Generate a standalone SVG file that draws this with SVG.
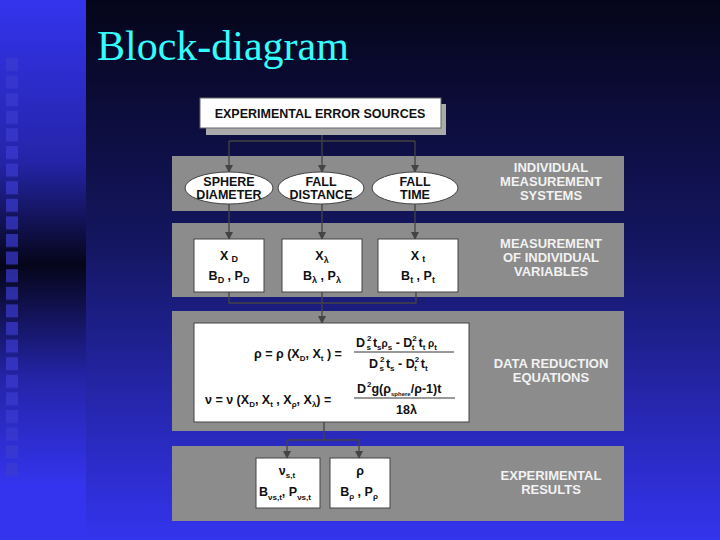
<svg xmlns="http://www.w3.org/2000/svg" width="720" height="540" viewBox="0 0 720 540">
<defs>
<linearGradient id="bgm" x1="0" y1="0" x2="0" y2="1"><stop offset="0" stop-color="#05051a"/><stop offset="0.45" stop-color="#141660"/><stop offset="1" stop-color="#3434ee"/></linearGradient>
<linearGradient id="bgl" x1="0" y1="0" x2="0" y2="1"><stop offset="0" stop-color="#3434ee"/><stop offset="0.3" stop-color="#2424a8"/><stop offset="0.49" stop-color="#05051a"/><stop offset="0.7" stop-color="#2424a8"/><stop offset="0.9" stop-color="#3434ee"/></linearGradient>
<marker id="ar" markerWidth="8" markerHeight="8" refX="7" refY="4" orient="auto" markerUnits="userSpaceOnUse"><path d="M0,0 L8,4 L0,8 z" fill="#444"/></marker>
<pattern id="sq" x="6" y="58" width="20" height="17.6" patternUnits="userSpaceOnUse"><rect width="12" height="13" fill="#3a3ad0" opacity="0.7"/></pattern>
</defs>
<style>
.band{fill:#8c8c8c}
.box{fill:#fff;stroke:#444;stroke-width:1}
.t{font-family:"Liberation Sans",Arial,sans-serif;font-weight:bold;font-size:12.5px;fill:#111;text-anchor:middle}
.lab{font-family:"Liberation Sans",Arial,sans-serif;font-weight:bold;font-size:13px;fill:#f2f2f2;text-anchor:middle}
.f{font-family:"Liberation Sans",Arial,sans-serif;font-weight:bold;font-size:12.5px;fill:#111}
.c{fill:none;stroke:#444;stroke-width:1.3}
</style>
<rect width="720" height="540" fill="url(#bgm)"/>
<rect width="86" height="540" fill="url(#bgl)"/>
<rect x="6" y="58" width="12" height="420" fill="url(#sq)"/>
<text x="97" y="60" font-family="Liberation Serif,serif" font-size="42" fill="#33ffff">Block-diagram</text>

<rect class="band" x="172" y="156" width="452" height="55"/>
<rect class="band" x="172" y="223" width="452" height="74"/>
<rect class="band" x="172" y="311" width="452" height="120"/>
<rect class="band" x="172" y="446" width="452" height="75"/>

<g id="connectors">
<path class="c" d="M322,128 V141 M229,141 H415"/>
<path class="c" d="M229,141 V172" marker-end="url(#ar)"/>
<path class="c" d="M322,141 V172" marker-end="url(#ar)"/>
<path class="c" d="M415,141 V172" marker-end="url(#ar)"/>
<path class="c" d="M229,204 V239" marker-end="url(#ar)"/>
<path class="c" d="M322,204 V239" marker-end="url(#ar)"/>
<path class="c" d="M415,204 V239" marker-end="url(#ar)"/>
<path class="c" d="M229,292 V303 H416 V292 M322,292 V303"/>
<path class="c" d="M322,303 V323" marker-end="url(#ar)"/>
<path class="c" d="M324,422 V440 M287,440 H359"/>
<path class="c" d="M287,440 V458" marker-end="url(#ar)"/>
<path class="c" d="M359,440 V458" marker-end="url(#ar)"/>
</g>

<g id="sources">
<rect x="206" y="104" width="240" height="31" fill="#aaa"/>
<rect x="200" y="98" width="241" height="30" fill="#fff" stroke="#666"/>
<text class="t" x="320" y="118">EXPERIMENTAL ERROR SOURCES</text>
</g>
<g id="sphere"><ellipse class="box" cx="229" cy="188" rx="44" ry="16"/><text class="t" x="229" y="186">SPHERE</text><text class="t" x="229" y="199">DIAMETER</text></g>
<g id="distance"><ellipse class="box" cx="321" cy="188" rx="43" ry="16"/><text class="t" x="321" y="186">FALL</text><text class="t" x="321" y="199">DISTANCE</text></g>
<g id="time"><ellipse class="box" cx="415" cy="188" rx="43" ry="16"/><text class="t" x="415" y="186">FALL</text><text class="t" x="415" y="199">TIME</text></g>

<g id="xd"><rect class="box" x="194" y="239" width="70" height="53"/>
<text class="t" x="229" y="260">X<tspan font-size="9" dx="3" dy="2">D</tspan></text>
<text class="t" x="229" y="280">B<tspan font-size="9" dy="3">D</tspan><tspan dy="-3"> , P</tspan><tspan font-size="9" dy="3">D</tspan></text></g>
<g id="xl"><rect class="box" x="282" y="239" width="80" height="53"/>
<text class="t" x="322" y="260">X<tspan font-size="9" dy="3">λ</tspan></text>
<text class="t" x="322" y="280">B<tspan font-size="9" dy="3">λ</tspan><tspan dy="-3"> , P</tspan><tspan font-size="9" dy="3">λ</tspan></text></g>
<g id="xt"><rect class="box" x="378" y="239" width="80" height="53"/>
<text class="t" x="418" y="260">X<tspan font-size="9" dx="3" dy="2">t</tspan></text>
<text class="t" x="418" y="280">B<tspan font-size="9" dy="3">t</tspan><tspan dy="-3"> , P</tspan><tspan font-size="9" dy="3">t</tspan></text></g>

<g id="equations"><rect class="box" x="194" y="323" width="275" height="99"/>
<text class="f" x="254" y="358">ρ = ρ (X<tspan font-size="8" dy="3">D</tspan><tspan dy="-3">, X</tspan><tspan font-size="8" dy="3">t</tspan><tspan dy="-3"> ) =</tspan></text>
<text class="f" x="356" y="347">D<tspan font-size="8" dx="2" dy="-6">2</tspan><tspan font-size="8" dx="-5" dy="9">s</tspan><tspan dx="2" dy="-3">t</tspan><tspan font-size="8" dy="3">s</tspan><tspan font-size="10" dy="-3">ρ</tspan><tspan font-size="8" dy="3">s</tspan><tspan dy="-3"> - D</tspan><tspan font-size="8" dy="-6">2</tspan><tspan font-size="8" dx="-5" dy="9">t</tspan><tspan dx="4" dy="-3">t</tspan><tspan font-size="8" dy="3">t</tspan><tspan font-size="10" dy="-3"> ρ</tspan><tspan font-size="8" dy="3">t</tspan></text>
<line x1="354" y1="352" x2="454" y2="352" stroke="#333" stroke-width="1"/>
<text class="f" x="369" y="368">D<tspan font-size="8" dx="2" dy="-6">2</tspan><tspan font-size="8" dx="-5" dy="9">s</tspan><tspan dx="2" dy="-3">t</tspan><tspan font-size="8" dy="3">s</tspan><tspan dy="-3"> - D</tspan><tspan font-size="8" dy="-6">2</tspan><tspan font-size="8" dx="-5" dy="9">t</tspan><tspan dx="4" dy="-3">t</tspan><tspan font-size="8" dy="3">t</tspan></text>
<text class="f" x="205" y="404">ν  = ν (X<tspan font-size="8" dy="3">D</tspan><tspan dy="-3">, X</tspan><tspan font-size="8" dy="3">t</tspan><tspan dy="-3"> , X</tspan><tspan font-size="8" dy="3">ρ</tspan><tspan dy="-3">, X</tspan><tspan font-size="8" dy="3">λ</tspan><tspan dy="-3">) =</tspan></text>
<text class="f" x="357" y="393">D<tspan font-size="8" dx="1" dy="-6">2</tspan><tspan dy="6">g(ρ</tspan><tspan font-size="6" dy="3">sphere</tspan><tspan dy="-3">/ρ-1)t</tspan></text>
<line x1="354" y1="398" x2="455" y2="398" stroke="#333" stroke-width="1"/>
<text class="f" x="396" y="414">18λ</text></g>

<g id="nu"><rect class="box" x="256" y="458" width="64" height="50"/>
<text class="t" x="287" y="475" font-weight="normal">ν<tspan font-size="8" dy="3" font-weight="bold">s,t</tspan></text>
<text class="t" x="285" y="496" font-size="13.5">B<tspan font-size="8" dy="4">νs,t</tspan><tspan dy="-4">, P</tspan><tspan font-size="8" dy="4">νs,t</tspan></text></g>
<g id="rho"><rect class="box" x="330" y="458" width="60" height="50"/>
<text class="t" x="360" y="475" font-weight="normal">ρ</text>
<text class="t" x="359" y="496" font-size="13.5">B<tspan font-size="8" dy="3">ρ</tspan><tspan dy="-3"> , P</tspan><tspan font-size="8" dy="3">ρ</tspan></text></g>

<g id="labels">
<text class="lab" x="551" y="172">INDIVIDUAL</text><text class="lab" x="551" y="186">MEASUREMENT</text><text class="lab" x="551" y="200">SYSTEMS</text>
<text class="lab" x="551" y="248">MEASUREMENT</text><text class="lab" x="551" y="262">OF INDIVIDUAL</text><text class="lab" x="551" y="276">VARIABLES</text>
<text class="lab" x="551" y="368">DATA REDUCTION</text><text class="lab" x="551" y="382">EQUATIONS</text>
<text class="lab" x="551" y="480">EXPERIMENTAL</text><text class="lab" x="551" y="494">RESULTS</text>
</g>
</svg>
